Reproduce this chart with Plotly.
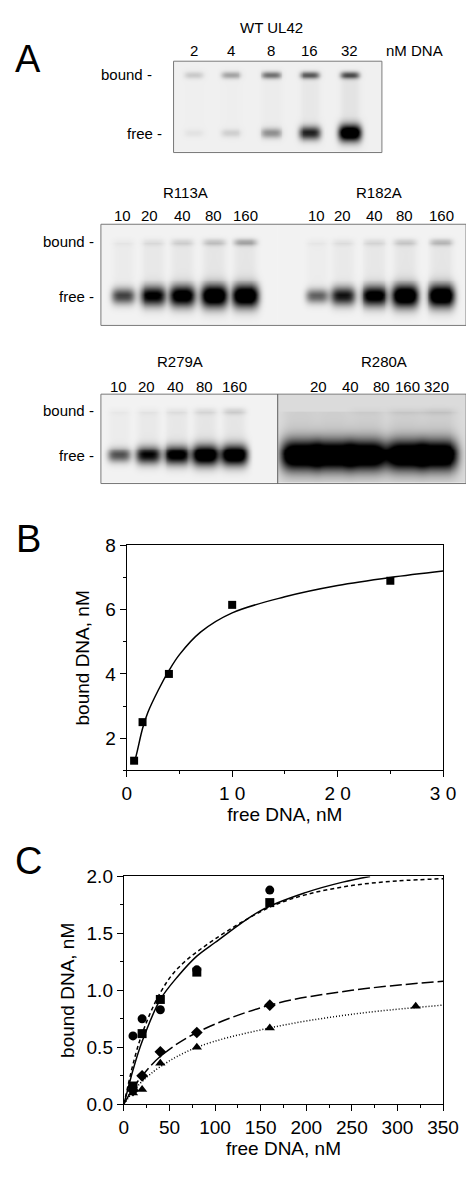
import numpy as np
import plotly.graph_objects as go

W, H = 474, 1177
FONT = "Liberation Sans, Arial"

# ---------- Panel A data (band intensities, 0-1) ----------
wt_conc = ["2", "4", "8", "16", "32"]
wt_bound = [0.15, 0.3, 0.5, 0.6, 0.65]
wt_free = [0.04, 0.1, 0.3, 0.65, 1.0]

r113_conc = ["10", "20", "40", "80", "160"]
r113_bound = [0.03, 0.07, 0.12, 0.18, 0.3]
r113_free = [0.55, 0.8, 0.9, 1.0, 1.0]

r182_conc = ["10", "20", "40", "80", "160"]
r182_bound = [0.03, 0.06, 0.09, 0.15, 0.22]
r182_free = [0.45, 0.7, 0.85, 1.0, 1.0]

r279_conc = ["10", "20", "40", "80", "160"]
r279_bound = [0.02, 0.03, 0.05, 0.08, 0.12]
r279_free = [0.5, 0.75, 0.85, 1.0, 1.0]

r280_conc = ["20", "40", "80", "160", "320"]
r280_bound = [0.0, 0.0, 0.02, 0.04, 0.06]
r280_free = [1.0, 1.0, 1.0, 1.0, 1.0]

# ---------- Panel B data ----------
b_free = [0.7, 1.5, 4.0, 10.0, 25.0]
b_bound = [1.3, 2.5, 4.0, 6.15, 6.9]
b_fit_x = [0.7, 1.0, 1.5, 2, 3, 4, 5, 7, 10, 15, 20, 25, 30]
b_fit_y = [1.2, 1.6, 2.3, 2.8, 3.5, 4.1, 4.6, 5.3, 5.9, 6.4, 6.75, 7.0, 7.2]

# ---------- Panel C data ----------
c_circ_x = [10, 20, 40, 80, 160]
c_circ_y = [0.6, 0.75, 0.83, 1.18, 1.88]
c_sq_x = [10, 20, 40, 80, 160]
c_sq_y = [0.16, 0.62, 0.92, 1.16, 1.77]
c_dia_x = [10, 20, 40, 80, 160]
c_dia_y = [0.12, 0.25, 0.46, 0.63, 0.87]
c_tri_x = [10, 20, 40, 80, 160, 320]
c_tri_y = [0.1, 0.13, 0.36, 0.5, 0.67, 0.86]

c_solid_x = [0, 5, 10, 20, 40, 60, 80, 100, 150, 200, 240, 270]
c_solid_y = [0.0, 0.15, 0.3, 0.55, 0.92, 1.13, 1.3, 1.42, 1.7, 1.86, 1.95, 2.0]
c_short_x = [0, 5, 10, 20, 40, 60, 100, 160, 200, 250, 300, 350]
c_short_y = [0.0, 0.18, 0.35, 0.62, 0.98, 1.2, 1.45, 1.73, 1.84, 1.92, 1.96, 1.98]
c_long_x = [0, 10, 20, 40, 80, 160, 250, 350]
c_long_y = [0.0, 0.14, 0.25, 0.42, 0.63, 0.87, 1.0, 1.08]
c_dot_x = [0, 10, 20, 40, 80, 160, 250, 350]
c_dot_y = [0.0, 0.11, 0.2, 0.33, 0.5, 0.67, 0.79, 0.87]

fig = go.Figure()


def gel(x0, x1, y0, y1, lanes, bound, free, yb, yf, bg, fwid_scale, spread=0.0):
    xs = np.arange(x0, x1 + 1, 1.0)
    ys = np.arange(y0, y1 + 1, 1.0)
    X, Y = np.meshgrid(xs, ys)
    z = np.full(X.shape, bg)
    for lx, b, f in zip(lanes, bound, free):
        wx = 10 + spread * f
        z += b * np.exp(-((X - lx) / wx) ** 4) * np.exp(-((Y - yb) / 3.5) ** 2)
        wf = 3.5 + fwid_scale * f
        z += 1.25 * f * np.exp(-((X - lx) / (wx + 2 * f)) ** 4) * np.exp(-((Y - yf) / wf) ** 2)
        z += 0.05 * f * np.exp(-((X - lx) / wx) ** 4) * ((Y > yb) & (Y < yf))
    z = np.clip(z, 0, 1)
    fig.add_trace(go.Heatmap(x=xs, y=ys, z=z, zmin=0, zmax=1, xaxis="x3", yaxis="y3",
                             colorscale=[[0, "white"], [1, "black"]], showscale=False,
                             zsmooth="best", hoverinfo="skip"))


gel(169, 385, 45, 136, [189, 228, 270, 310, 352], wt_bound, wt_free, 58, 117, 0.06, 5)
gel(93, 276, 211, 312, [115, 146, 177, 210, 243], r113_bound, r113_free, 228, 283, 0.05, 8, 2)
gel(277, 473, 211, 312, [318, 345, 378, 410, 448], r182_bound, r182_free, 228, 283, 0.05, 8, 2)
gel(93, 276, 384, 473, [111, 141, 171, 201, 231], r279_bound, r279_free, 400, 445, 0.05, 7, 2)
gel(278, 473, 384, 473, [300, 335, 370, 410, 445], r280_bound, r280_free, 400, 445, 0.14, 12, 8)

for (a, b, c, d) in [(168, 44, 386, 137), (92, 210, 474, 313), (92, 383, 474, 474)]:
    fig.add_shape(type="rect", xref="x3", yref="y3", x0=a, y0=b, x1=c, y1=d,
                  line=dict(color="#777", width=1))
fig.add_shape(type="line", xref="x3", yref="y3", x0=277, x1=277, y0=383, y1=474,
              line=dict(color="#555", width=1))

ann = []


def txt(x, y, s, size=15, anchor="center"):
    ann.append(dict(x=x, y=y, xref="x3", yref="y3", text=s, showarrow=False,
                    font=dict(size=size, family=FONT, color="black"), xanchor=anchor))


txt(270, 10, "WT UL42")
for lx, s in zip([189, 228, 270, 310, 352], wt_conc):
    txt(lx, 33, s)
txt(420, 33, "nM DNA")
txt(148, 58, "bound -", anchor="right")
txt(158, 118, "free -", anchor="right")
txt(180, 178, "R113A")
txt(383, 178, "R182A")
for lx, s in zip([115, 143, 177, 210, 243], r113_conc):
    txt(lx, 201, s)
for lx, s in zip([318, 345, 378, 410, 448], r182_conc):
    txt(lx, 201, s)
txt(87, 228, "bound -", anchor="right")
txt(87, 284, "free -", anchor="right")
txt(175, 350, "R279A")
txt(388, 350, "R280A")
for lx, s in zip([110, 140, 170, 200, 232], r279_conc):
    txt(lx, 375, s)
for lx, s in zip([320, 353, 386, 413, 443], r280_conc):
    txt(lx, 375, s)
txt(87, 400, "bound -", anchor="right")
txt(87, 445, "free -", anchor="right")
txt(16, 42, "A", size=38)
txt(16, 530, "B", size=38)
txt(16, 858, "C", size=38)

# ---------- Panel B ----------
fig.add_trace(go.Scatter(x=b_fit_x, y=b_fit_y, mode="lines", line=dict(color="black", width=1.5, shape="spline"),
                         xaxis="x", yaxis="y"))
fig.add_trace(go.Scatter(x=b_free, y=b_bound, mode="markers", marker=dict(symbol="square", size=8, color="black"),
                         xaxis="x", yaxis="y", cliponaxis=False))

# ---------- Panel C ----------
for xs, ys, dash in [(c_solid_x, c_solid_y, "solid"), (c_short_x, c_short_y, "4px,3px"),
                     (c_long_x, c_long_y, "12px,4px"), (c_dot_x, c_dot_y, "1px,2px")]:
    fig.add_trace(go.Scatter(x=xs, y=ys, mode="lines", line=dict(color="black", width=1.5, dash=dash, shape="spline"),
                             xaxis="x2", yaxis="y2"))
for xs, ys, sym in [(c_circ_x, c_circ_y, "circle"), (c_sq_x, c_sq_y, "square"),
                    (c_dia_x, c_dia_y, "diamond"), (c_tri_x, c_tri_y, "triangle-up")]:
    fig.add_trace(go.Scatter(x=xs, y=ys, mode="markers", marker=dict(symbol=sym, size=9, color="black"),
                             xaxis="x2", yaxis="y2", cliponaxis=False))


def dom(a, b, n):
    return [a / n, b / n]


TF = dict(size=19, family=FONT, color="black")
ax = dict(showline=True, linecolor="black", linewidth=1.2, mirror=True, ticks="outside",
          ticklen=6, tickcolor="black", showgrid=False, zeroline=False,
          tickfont=dict(size=19, family=FONT, color="black"),
          minor=dict(ticks="outside", ticklen=3, tickcolor="black"))

fig.update_layout(
    width=W, height=H, margin=dict(l=0, r=0, t=0, b=0), showlegend=False,
    plot_bgcolor="rgba(0,0,0,0)", paper_bgcolor="white",
    xaxis=dict(ax, domain=dom(119, 450, W), range=[0, 30], tickvals=[0, 10, 20, 30],
               ticktext=["0", "1 0", "2 0", "3 0"], minor=dict(ax["minor"], dtick=5, tick0=0),
               title=dict(text="free DNA, nM", font=TF, standoff=4)),
    yaxis=dict(ax, domain=[1 - 766 / H, 1 - 537 / H], range=[1, 8], tickvals=[2, 4, 6, 8],
               minor=dict(ax["minor"], dtick=1, tick0=1),
               title=dict(text="bound DNA, nM", font=TF, standoff=10)),
    xaxis2=dict(ax, domain=dom(116, 450, W), range=[0, 350], dtick=50,
                minor=dict(ax["minor"], dtick=25, tick0=0), anchor="y2",
                title=dict(text="free DNA, nM", font=TF, standoff=4)),
    yaxis2=dict(ax, domain=[1 - 1106 / H, 1 - 874 / H], range=[0, 2], tickvals=[0, 0.5, 1, 1.5, 2],
                ticktext=["0.0", "0.5", "1.0", "1.5", "2.0"], minor=dict(ax["minor"], dtick=0.25, tick0=0),
                anchor="x2",
                title=dict(text="bound DNA, nM", font=TF, standoff=6)),
    xaxis3=dict(domain=[0, 1], range=[0, W], visible=False, anchor="y3", fixedrange=True),
    yaxis3=dict(domain=[0, 1], range=[H, 0], visible=False, anchor="x3", fixedrange=True),
    annotations=ann,
)

fig.write_html("out.html")
